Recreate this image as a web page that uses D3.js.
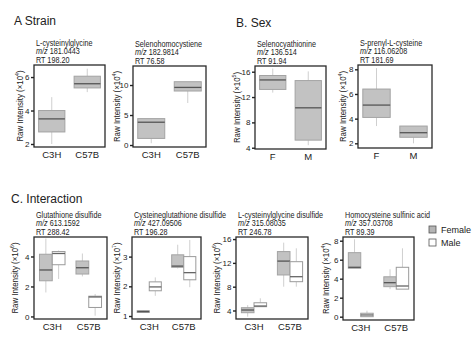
<!DOCTYPE html>
<html><head><meta charset="utf-8">
<script src="https://cdn.jsdelivr.net/npm/d3@7"></script>
<style>
body{margin:0;background:#fff;}
text{font-family:"Liberation Sans",Arial,sans-serif;fill:#222;}
</style></head>
<body><svg id="c" width="474" height="355"></svg>
<script>
// ---- data ----
const strainGroups = ["C3H", "C57B"];
const sexGroups = ["F", "M"];
const sexes = ["Female", "Male"];
// stats: [min, q1, median, q3, max]
const cysGlyStats = [[2.0, 2.72, 3.5, 4.0, 4.8], [5.1, 5.35, 5.6, 6.05, 6.5]];
const selenoHcyStats = [[0.3, 1.1, 3.8, 4.4, 4.4], [7.0, 9.0, 9.6, 10.55, 10.55]];
const selenoCystaStats = [[12.7, 13.2, 14.7, 15.4, 16.5], [4.4, 5.2, 10.3, 14.6, 16.05]];
const prenylCysStats = [[3.4, 4.1, 5.1, 6.4, 8.1], [2.0, 2.49, 2.86, 3.4, 3.4]];
// interaction stats: per strain, [female, male]
const gssgStats = [[[1.6, 2.38, 3.1, 4.15, 5.2], [2.5, 3.45, 4.2, 4.33, 4.4]],
                   [[2.67, 2.83, 3.25, 3.7, 4.2], [0.05, 0.6, 1.3, 1.35, 1.5]]];
const cysGsStats = [[[1.1, 1.12, 1.15, 1.18, 1.2], [1.68, 1.85, 1.98, 2.15, 2.3]],
                    [[2.6, 2.64, 2.68, 3.06, 3.4], [1.97, 2.22, 2.46, 3.0, 3.56]]];
const cysGlyDisStats = [[[2.96, 3.63, 4.08, 4.47, 4.9], [4.64, 4.64, 4.75, 5.3, 6.05]],
                        [[8.0, 9.97, 12.3, 13.9, 15.4], [8.0, 8.84, 9.68, 12.2, 14.45]]];
const hcySulfStats = [[[5.1, 5.1, 5.2, 6.74, 8.15], [0.0, 0.0, 0.18, 0.36, 0.63]],
                      [[2.9, 3.16, 3.58, 4.2, 4.99], [2.9, 2.9, 3.23, 5.2, 7.2]]];
const titleA = ["L-cysteinylglycine", "181.0443", "198.20"];
const titleA2 = ["Selenohomocystiene", "182.9814", "76.58"];
const titleB = ["Selenocyathionine", "136.514", "91.94"];
const titleB2 = ["S-prenyl-L-cysteine", "116.06208", "181.69"];
const titleC1 = ["Glutathione disulfide", "613.1592", "288.42"];
const titleC2 = ["Cysteineglutathione disulfide", "427.09506", "196.28"];
const titleC3 = ["L-cysteinylglycine disulfide", "315.08035", "246.78"];
const titleC4 = ["Homocysteine sulfinic acid", "357.03708", "89.39"];
const ticksA1 = [2, 4, 6], ticksA2 = [0, 5, 10], ticksB1 = [4, 8, 12, 16], ticksB2 = [2, 4, 6, 8];
const ticksC1 = [0, 2, 4], ticksC2 = [1, 2, 3], ticksC3 = [4, 8, 12, 16], ticksC4 = [0, 2, 4, 6, 8];
const expA1 = "4", expA2 = "4", expB1 = "5", expB2 = "4", expC1 = "6", expC2 = "7", expC3 = "6", expC4 = "4";

// ---- layout ----
const svg = d3.select("#c");
const FEM_FILL = "#c2c2c2", FEM_STROKE = "#a3a3a3", MED = "#555", WHISK = "#cfcfcf";

const panels = [
  {box:[34,105,65,147], dom:[1.82,6.72], ticks:ticksA1, groups:strainGroups, stats:cysGlyStats, title:titleA, exp:expA1, ylx:21},
  {box:[133,206,66,147], dom:[-0.33,13.17], ticks:ticksA2, groups:strainGroups, stats:selenoHcyStats, title:titleA2, exp:expA2, ylx:118},
  {box:[255,326,66,149], dom:[3.8,16.9], ticks:ticksB1, groups:sexGroups, stats:selenoCystaStats, title:titleB, exp:expB1, ylx:238},
  {box:[358,432,65,148], dom:[1.62,8.35], ticks:ticksB2, groups:sexGroups, stats:prenylCysStats, title:titleB2, exp:expB2, ylx:344},
  {box:[34,107,237,319], dom:[-0.17,5.3], ticks:ticksC1, groups:strainGroups, stats:gssgStats, title:titleC1, exp:expC1, ylx:16, inter:true},
  {box:[132,201,237,319], dom:[0.9,3.66], ticks:ticksC2, groups:strainGroups, stats:cysGsStats, title:titleC2, exp:expC2, ylx:118, inter:true},
  {box:[236,308,237,319], dom:[2.57,16.35], ticks:ticksC3, groups:strainGroups, stats:cysGlyDisStats, title:titleC3, exp:expC3, ylx:218, inter:true},
  {box:[343,414,237,320], dom:[-0.35,8.39], ticks:ticksC4, groups:strainGroups, stats:hcySulfStats, title:titleC4, exp:expC4, ylx:327, inter:true}
];

function drawBox(g, cx, w, s, y, female){
  const [mn,q1,md,q3,mx] = s;
  g.append("line").attr("x1",cx).attr("x2",cx).attr("y1",y(q3)).attr("y2",y(mx))
    .attr("stroke",WHISK).attr("stroke-width",1);
  g.append("line").attr("x1",cx).attr("x2",cx).attr("y1",y(q1)).attr("y2",y(mn))
    .attr("stroke",WHISK).attr("stroke-width",1);
  g.append("rect").attr("x",cx-w/2).attr("width",w).attr("y",y(q3)).attr("height",Math.max(1,y(q1)-y(q3)))
    .attr("fill",female?FEM_FILL:"#fff").attr("stroke",female?FEM_STROKE:"#9a9a9a").attr("stroke-width",1);
  g.append("line").attr("x1",cx-w/2).attr("x2",cx+w/2).attr("y1",y(md)).attr("y2",y(md))
    .attr("stroke",female?MED:"#666").attr("stroke-width",1.3);
}

panels.forEach(p=>{
  const [x0,x1,y0,y1] = p.box;
  const g = svg.append("g");
  const y = d3.scaleLinear().domain(p.dom).range([y1,y0]);
  const x = d3.scalePoint().domain(p.groups).range([x0,x1]).padding(0.5);
  const w = x1-x0;
  if(!p.inter){
    p.stats.forEach((s,i)=>drawBox(g, x(p.groups[i]), w*0.37, s, y, true));
  } else {
    const sub = d3.scaleBand().domain(sexes).range([-w*0.175, w*0.175]);
    p.stats.forEach((pair,i)=>{
      pair.forEach((s,j)=>drawBox(g, x(p.groups[i])+sub(sexes[j])+sub.bandwidth()/2, sub.bandwidth(), s, y, j===0));
    });
  }
  // frame
  g.append("rect").attr("x",x0).attr("y",y0).attr("width",x1-x0).attr("height",y1-y0)
    .attr("fill","none").attr("stroke","#2a2a2a").attr("stroke-width",1.3);
  // y axis
  const ax = g.append("g").attr("transform",`translate(${x0},0)`)
    .call(d3.axisLeft(y).tickValues(p.ticks).tickSize(3).tickPadding(1.5).tickFormat(d3.format("d")));
  ax.select(".domain").remove();
  ax.selectAll("line").attr("stroke","#222").attr("stroke-width",1.4);
  ax.selectAll("text").attr("font-size",8).attr("fill","#333");
  // x labels
  p.groups.forEach(gr=>{
    g.append("text").attr("x",x(gr)).attr("y",y1+11).attr("text-anchor","middle")
      .attr("font-size",9.5).text(gr);
  });
  // titles (horizontally condensed)
  const tg = g.append("g").attr("transform",`translate(${x0+2},0) scale(0.84,1)`);
  const t = tg.append("text").attr("font-size",8.6);
  t.append("tspan").attr("x",0).attr("y",y0-19).text(p.title[0]);
  const l2 = t.append("tspan").attr("x",0).attr("y",y0-10.5);
  l2.append("tspan").attr("font-style","italic").text("m/z");
  l2.append("tspan").text(" "+p.title[1]);
  t.append("tspan").attr("x",0).attr("y",y0-2).text("RT "+p.title[2]);
  // y label (condensed)
  const yl = g.append("text").attr("transform",`translate(${p.ylx},${(y0+y1)/2}) rotate(-90) scale(0.86,1)`)
    .attr("text-anchor","middle").attr("dominant-baseline","middle").attr("font-size",9.2);
  yl.append("tspan").text("Raw Intensity (\u00d710");
  yl.append("tspan").attr("font-size",6).attr("dy",-3).text(p.exp);
  yl.append("tspan").attr("dy",3).text(")");
});

// section headings
svg.append("text").attr("x",14).attr("y",25).attr("font-size",12).text("A  Strain");
svg.append("text").attr("x",236).attr("y",27).attr("font-size",12).text("B. Sex");
svg.append("text").attr("x",11).attr("y",203).attr("font-size",12).text("C. Interaction");

// legend
const leg = svg.append("g");
sexes.forEach((s,i)=>{
  leg.append("rect").attr("x",429).attr("y",226+i*13).attr("width",7).attr("height",7)
    .attr("fill",i===0?"#b5b5b5":"#fff").attr("stroke","#555").attr("stroke-width",0.8);
  leg.append("text").attr("x",441).attr("y",233+i*13).attr("font-size",9).text(s);
});
</script></body></html>
